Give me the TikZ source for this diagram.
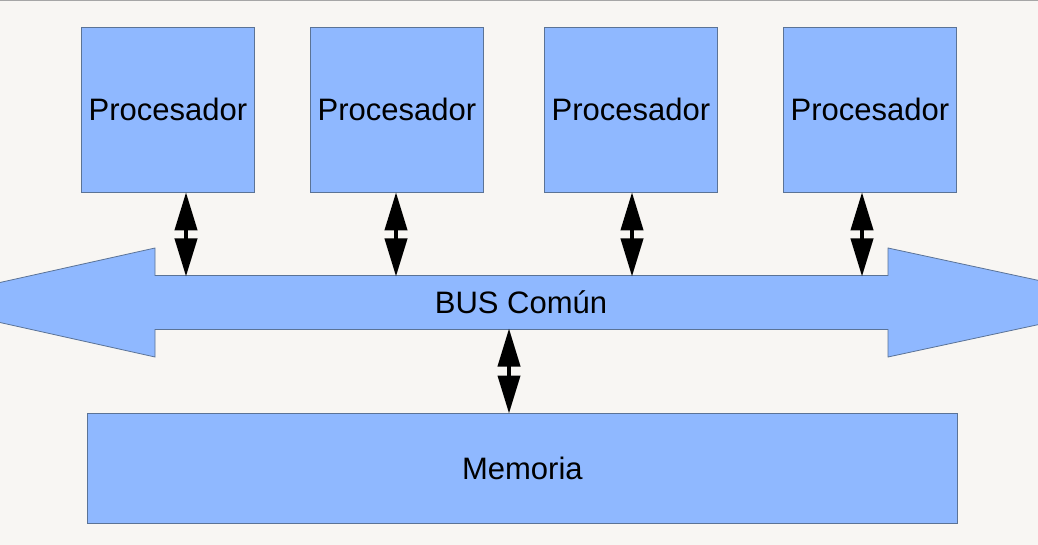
\documentclass[tikz,border=0pt]{standalone}
\usepackage{fontspec}
\setmainfont{Liberation Sans}
\usetikzlibrary{arrows.meta}
\definecolor{bg}{HTML}{F8F6F3}
\definecolor{bf}{HTML}{8FB8FF}
\definecolor{bd}{HTML}{5B7396}
\begin{document}
\begin{tikzpicture}[x=1pt,y=-1pt,
 box/.style={draw=bd,fill=bf,line width=0.8pt,inner sep=0pt,anchor=north west},
 lbl/.style={font=\fontsize{31}{34}\selectfont},
 dar/.style={line width=4pt,{Triangle[width=22pt,length=38pt]}-{Triangle[width=22pt,length=38pt]},shorten <=-0.5pt,shorten >=-0.5pt}]
\useasboundingbox (0,0) rectangle (1038,545);
\fill[bg] (0,0) rectangle (1038,545);
\fill[gray!70] (0,0) rectangle (1038,1.5);
\foreach \n/\x in {1/81,2/310,3/544,4/783}
  \node[box,minimum width=173pt,minimum height=165pt,lbl] (p\n) at (\x,27) {Procesador};
\begin{scope}
\clip (0,0) rectangle (1038,545);
\draw[bd,fill=bf,line width=0.8pt] (-90,302.5) -- (155,248) -- (155,275.5) -- (888,275.5) -- (888,248) -- (1141,302.5) -- (888,357) -- (888,329.5) -- (155,329.5) -- (155,357) -- cycle;
\end{scope}
\node[lbl] (bus) at (521,302) {BUS Común};
\node[box,minimum width=870pt,minimum height=110pt,lbl] (mem) at (87,413) {Memoria};
\coordinate (b1) at (186,276);
\coordinate (b2) at (396,276);
\coordinate (b3) at (632,276);
\coordinate (b4) at (862,276);
\coordinate (bm) at (509,329);
\draw[dar] (b1|-p1.south) -- (b1);
\draw[dar] (b2|-p2.south) -- (b2);
\draw[dar] (b3|-p3.south) -- (b3);
\draw[dar] (b4|-p4.south) -- (b4);
\draw[dar] (bm) -- (bm|-mem.north);
\end{tikzpicture}
\end{document}
